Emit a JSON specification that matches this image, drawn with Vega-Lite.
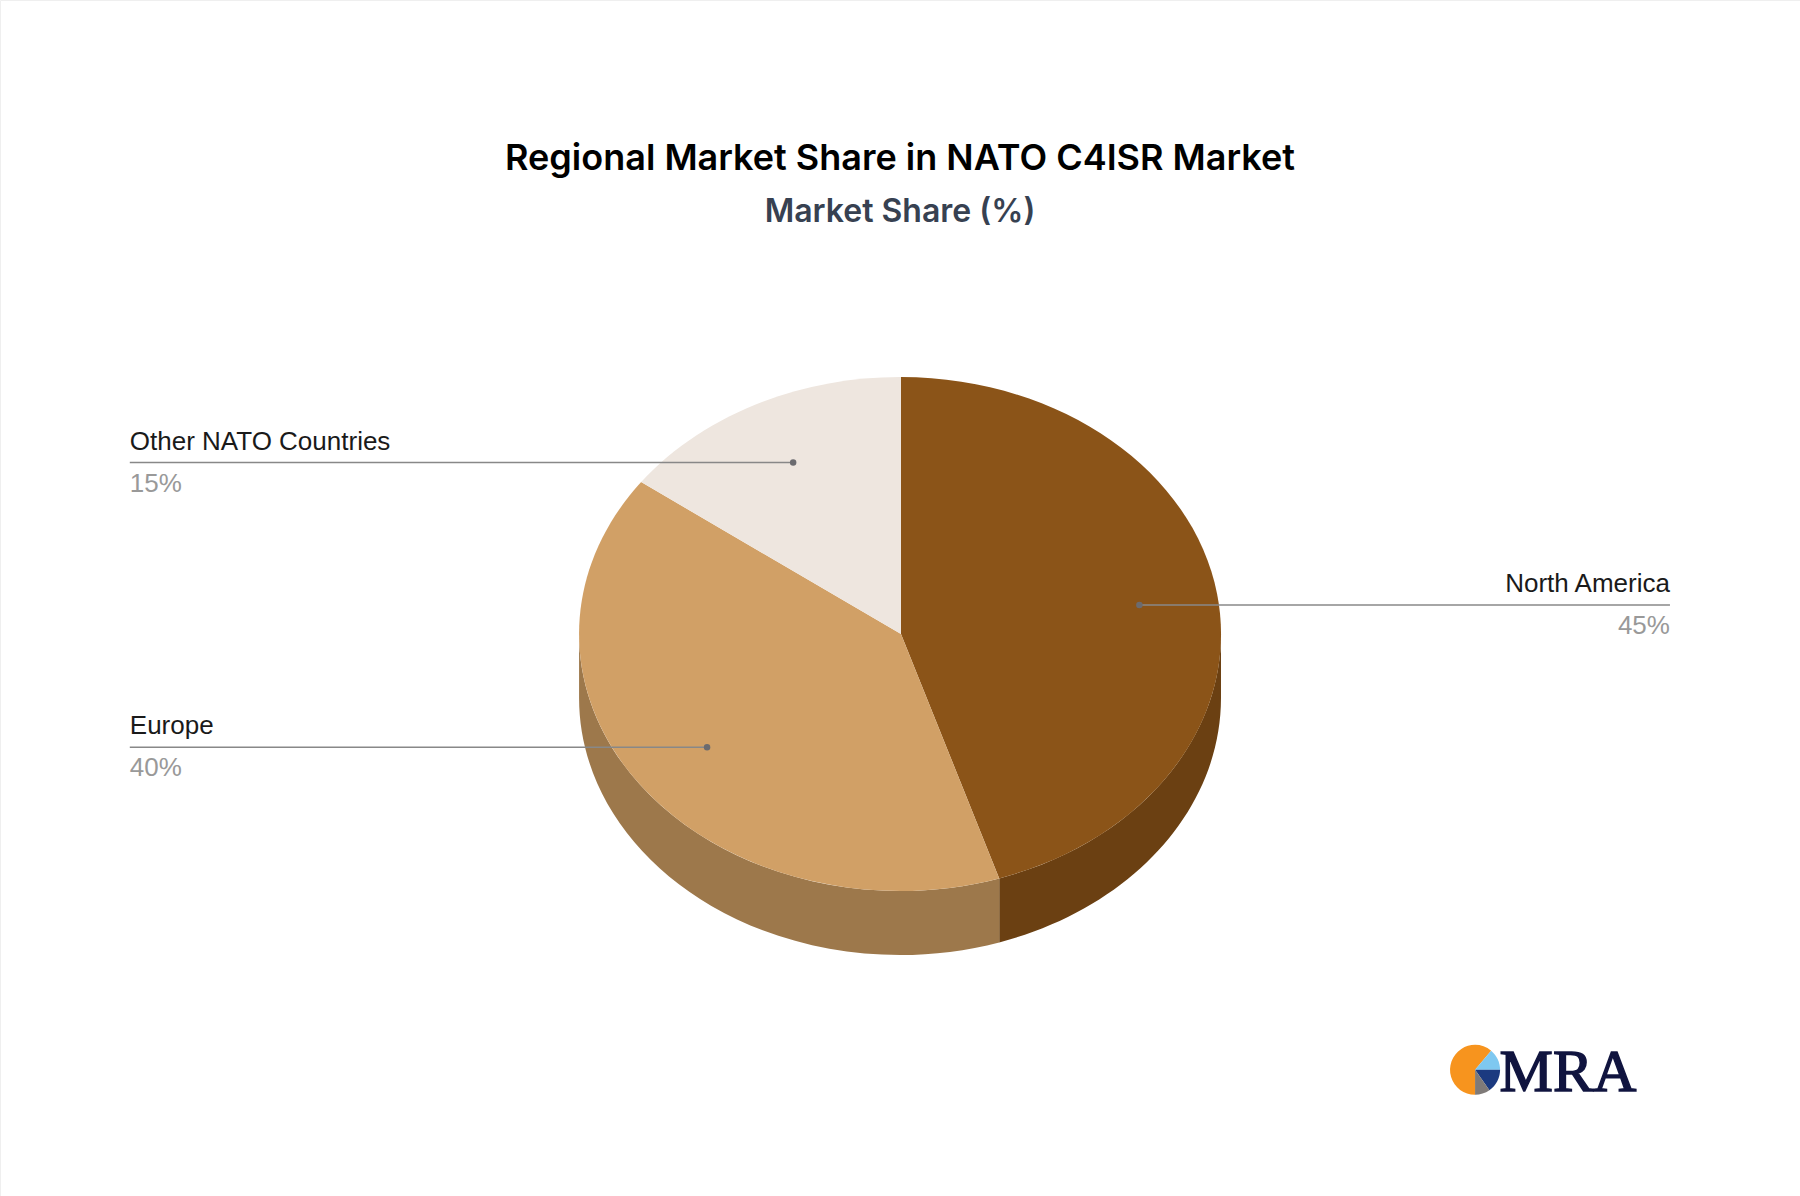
{
  "$schema": "https://vega.github.io/schema/vega-lite/v6.json",
  "width": 1800,
  "height": 1196,
  "padding": 0,
  "autosize": "none",
  "background": "#ffffff",
  "title": {
    "text": "Regional Market Share in NATO C4ISR Market",
    "subtitle": "Market Share (%)",
    "anchor": "middle",
    "orient": "top",
    "offset": -229,
    "font": "Inter",
    "fontSize": 36,
    "fontWeight": 600,
    "color": "#000000",
    "subtitleFont": "Inter",
    "subtitleFontSize": 32,
    "subtitleFontWeight": 600,
    "subtitleColor": "#374151",
    "subtitlePadding": 19
  },
  "config": {"view": {"stroke": "#efefef"}},
  "datasets": {
    "shares": [
      {"region": "North America", "share": 0.45},
      {"region": "Europe", "share": 0.40},
      {"region": "Other NATO Countries", "share": 0.15}
    ],
    "leaders": [
      {"region": "North America", "share": 0.45, "dot_x": 0.745, "end_x": 2.403, "line_y": 0.113},
      {"region": "Europe", "share": 0.40, "dot_x": -0.606, "end_x": -2.41, "line_y": -0.441},
      {"region": "Other NATO Countries", "share": 0.15, "dot_x": -0.337, "end_x": -2.41, "line_y": 0.667}
    ],
    "logo": [
      {"part": "orange"},
      {"part": "sky"},
      {"part": "navy"},
      {"part": "grey"}
    ],
    "brand": [{"name": "MRA", "x": 2.084, "y": -1.78}]
  },
  "layer": [
    {
      "data": {"name": "shares"},
      "transform": [{"filter": "datum.region !== 'Other NATO Countries'"}],
      "mark": {"type": "point", "filled": true, "opacity": 1, "size": 409600, "strokeWidth": 0},
      "encoding": {
        "x": {"datum": 0, "type": "quantitative", "scale": {"domain": [-2.8156, 2.8094], "nice": false, "zero": false}, "axis": null},
        "y": {"datum": 0, "type": "quantitative", "scale": {"domain": [-2.1868, 2.4669], "nice": false, "zero": false}, "axis": null},
        "shape": {
          "field": "region",
          "legend": null,
          "scale": {
            "domain": ["North America", "Europe"],
            "range": [
              "M1 0A1.003 .803 0 0 1 .307 .7637L.307 .9637A1.003 .803 0 0 0 1 .2Z",
              "M.307 .7637A1.003 .803 0 0 1 -1.006 0L-1.006 .2A1.003 .803 0 0 0 .307 .9637Z"
            ]
          }
        },
        "color": {
          "field": "region",
          "legend": null,
          "scale": {"domain": ["North America", "Europe"], "range": ["#6B4012", "#9D784B"]}
        }
      }
    },
    {
      "data": {"name": "shares"},
      "mark": {"type": "point", "filled": true, "opacity": 1, "size": 409600, "strokeWidth": 0},
      "encoding": {
        "x": {"datum": 0, "type": "quantitative", "scale": {"domain": [-2.8156, 2.8094], "nice": false, "zero": false}, "axis": null},
        "y": {"datum": 0, "type": "quantitative", "scale": {"domain": [-2.1868, 2.4669], "nice": false, "zero": false}, "axis": null},
        "shape": {
          "field": "region",
          "legend": null,
          "scale": {
            "domain": ["North America", "Europe", "Other NATO Countries"],
            "range": [
              "M0 0L0 -.803A1.003 .803 0 0 1 .307 .7637Z",
              "M0 0L.307 .7637A1.003 .803 0 0 1 -.812 -.4747Z",
              "M0 0L-.812 -.4747A1.003 .803 0 0 1 0 -.803Z"
            ]
          }
        },
        "color": {
          "field": "region",
          "legend": null,
          "scale": {"domain": ["North America", "Europe", "Other NATO Countries"], "range": ["#8B5418", "#D1A066", "#EEE6DF"]}
        }
      }
    },
    {
      "data": {"name": "leaders"},
      "mark": {"type": "rule", "stroke": "#888888", "strokeWidth": 1.5},
      "encoding": {
        "x": {"field": "dot_x", "type": "quantitative", "scale": {"domain": [-2.8156, 2.8094], "nice": false, "zero": false}, "axis": null},
        "x2": {"field": "end_x"},
        "y": {"field": "line_y", "type": "quantitative", "scale": {"domain": [-2.1868, 2.4669], "nice": false, "zero": false}, "axis": null}
      }
    },
    {
      "data": {"name": "leaders"},
      "mark": {"type": "circle", "size": 42, "color": "#6B6B6F", "opacity": 1},
      "encoding": {
        "x": {"field": "dot_x", "type": "quantitative", "scale": {"domain": [-2.8156, 2.8094], "nice": false, "zero": false}, "axis": null},
        "y": {"field": "line_y", "type": "quantitative", "scale": {"domain": [-2.1868, 2.4669], "nice": false, "zero": false}, "axis": null}
      }
    },
    {
      "data": {"name": "leaders"},
      "transform": [{"filter": "datum.end_x < 0"}],
      "mark": {"type": "text", "align": "left", "baseline": "alphabetic", "dy": -13, "font": "Liberation Sans", "fontSize": 26, "color": "#1A1A1A"},
      "encoding": {
        "x": {"field": "end_x", "type": "quantitative", "scale": {"domain": [-2.8156, 2.8094], "nice": false, "zero": false}, "axis": null},
        "y": {"field": "line_y", "type": "quantitative", "scale": {"domain": [-2.1868, 2.4669], "nice": false, "zero": false}, "axis": null},
        "text": {"field": "region"}
      }
    },
    {
      "data": {"name": "leaders"},
      "transform": [{"filter": "datum.end_x > 0"}],
      "mark": {"type": "text", "align": "right", "baseline": "alphabetic", "dy": -13, "font": "Liberation Sans", "fontSize": 26, "color": "#1A1A1A"},
      "encoding": {
        "x": {"field": "end_x", "type": "quantitative", "scale": {"domain": [-2.8156, 2.8094], "nice": false, "zero": false}, "axis": null},
        "y": {"field": "line_y", "type": "quantitative", "scale": {"domain": [-2.1868, 2.4669], "nice": false, "zero": false}, "axis": null},
        "text": {"field": "region"}
      }
    },
    {
      "data": {"name": "leaders"},
      "transform": [{"filter": "datum.end_x < 0"}],
      "mark": {"type": "text", "align": "left", "baseline": "alphabetic", "dy": 29, "font": "Liberation Sans", "fontSize": 26, "color": "#999999"},
      "encoding": {
        "x": {"field": "end_x", "type": "quantitative", "scale": {"domain": [-2.8156, 2.8094], "nice": false, "zero": false}, "axis": null},
        "y": {"field": "line_y", "type": "quantitative", "scale": {"domain": [-2.1868, 2.4669], "nice": false, "zero": false}, "axis": null},
        "text": {"field": "share", "format": ".0%"}
      }
    },
    {
      "data": {"name": "leaders"},
      "transform": [{"filter": "datum.end_x > 0"}],
      "mark": {"type": "text", "align": "right", "baseline": "alphabetic", "dy": 29, "font": "Liberation Sans", "fontSize": 26, "color": "#999999"},
      "encoding": {
        "x": {"field": "end_x", "type": "quantitative", "scale": {"domain": [-2.8156, 2.8094], "nice": false, "zero": false}, "axis": null},
        "y": {"field": "line_y", "type": "quantitative", "scale": {"domain": [-2.1868, 2.4669], "nice": false, "zero": false}, "axis": null},
        "text": {"field": "share", "format": ".0%"}
      }
    },
    {
      "data": {"name": "logo"},
      "mark": {"type": "point", "filled": true, "opacity": 1, "size": 2500, "strokeWidth": 0},
      "encoding": {
        "x": {"datum": 1.794, "type": "quantitative", "scale": {"domain": [-2.8156, 2.8094], "nice": false, "zero": false}, "axis": null},
        "y": {"datum": -1.696, "type": "quantitative", "scale": {"domain": [-2.1868, 2.4669], "nice": false, "zero": false}, "axis": null},
        "shape": {
          "field": "part",
          "legend": null,
          "scale": {
            "domain": ["orange", "sky", "navy", "grey"],
            "range": [
              "M0 0L0 1A1 1 0 1 1 .643 -.766Z",
              "M0 0L.643 -.766A1 1 0 0 1 1 0Z",
              "M0 0L1 0A1 1 0 0 1 .574 .819Z",
              "M0 0L.574 .819A1 1 0 0 1 0 1Z"
            ]
          }
        },
        "color": {
          "field": "part",
          "legend": null,
          "scale": {"domain": ["orange", "sky", "navy", "grey"], "range": ["#F7941E", "#7EC8F0", "#1B3A80", "#7F7A78"]}
        }
      }
    },
    {
      "data": {"name": "brand"},
      "mark": {"type": "text", "align": "center", "baseline": "alphabetic", "font": "Liberation Serif", "fontSize": 60, "color": "#10143F", "stroke": "#10143F", "strokeWidth": 1.5},
      "encoding": {
        "x": {"field": "x", "type": "quantitative", "scale": {"domain": [-2.8156, 2.8094], "nice": false, "zero": false}, "axis": null},
        "y": {"field": "y", "type": "quantitative", "scale": {"domain": [-2.1868, 2.4669], "nice": false, "zero": false}, "axis": null},
        "text": {"field": "name"}
      }
    }
  ],
  "resolve": {"scale": {"shape": "independent", "color": "independent"}}
}
